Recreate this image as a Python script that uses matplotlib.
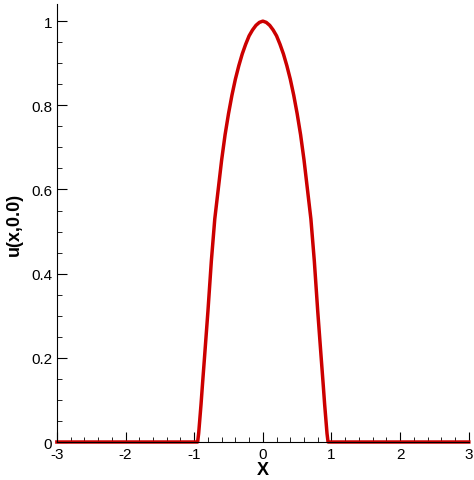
import matplotlib
matplotlib.use("Agg")
import matplotlib.pyplot as plt
from matplotlib.ticker import MultipleLocator

plt.rcParams['font.family'] = ['Liberation Sans', 'DejaVu Sans']

# Profilo u(x, 0.0) (metà destra, simmetrico)
x_half = [0.0, 0.05, 0.1, 0.15, 0.2, 0.25, 0.3, 0.35, 0.4, 0.45, 0.5, 0.55, 0.6, 0.65,
          0.7, 0.75, 0.8, 0.85, 0.88, 0.9, 0.92, 0.935, 0.95, 3.0]
u_half = [1.0, 0.997, 0.99, 0.979, 0.965, 0.945, 0.922, 0.894, 0.862, 0.824, 0.78, 0.73,
          0.67, 0.60, 0.53, 0.43, 0.31, 0.20, 0.135, 0.09, 0.05, 0.02, 0.0, 0.0]

x = [-v for v in x_half[::-1]] + x_half[1:]
u = u_half[::-1] + u_half[1:]

fig = plt.figure(figsize=(4.74, 4.81), dpi=100)
ax = fig.add_axes([0.12, 0.079, 0.869, 0.91])
ax.plot(x, u, color="#cc0000", lw=2.5, clip_on=False, solid_joinstyle="round")

ax.set_xlim(-3, 3)
ax.set_ylim(0, 1.04)
ax.xaxis.set_major_locator(MultipleLocator(1))
ax.xaxis.set_minor_locator(MultipleLocator(0.2))
ax.yaxis.set_major_locator(MultipleLocator(0.2))
ax.yaxis.set_minor_locator(MultipleLocator(0.05))
ax.set_yticks([0, 0.2, 0.4, 0.6, 0.8, 1.0], ["0", "0.2", "0.4", "0.6", "0.8", "1"])
ax.set_xticks([-3, -2, -1, 0, 1, 2, 3], ["-3", "-2", "-1", "0", "1", "2", "3"])
ax.tick_params(which="both", direction="in", labelsize=11)
ax.tick_params(which="major", length=7)
ax.tick_params(which="minor", length=3.5)
for s in ["top", "right"]:
    ax.spines[s].set_visible(False)

ax.set_xlabel("X", fontsize=13, fontweight="bold", labelpad=0)
ax.set_ylabel("u(x,0.0)", fontsize=13, fontweight="bold", labelpad=6)

fig.savefig("out.png")
